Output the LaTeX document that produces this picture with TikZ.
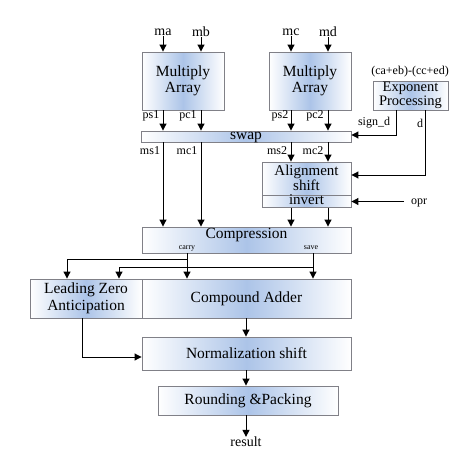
\documentclass[tikz,border=0pt]{standalone}
\usepackage{fontspec}
\setmainfont{Liberation Serif}
\usetikzlibrary{arrows.meta,calc}
\definecolor{boxblue}{RGB}{172,196,232}
\definecolor{boxedge}{RGB}{128,128,135}
\tikzset{
  blk/.style={draw=boxedge, line width=0.9pt, left color=white, right color=white,
    middle color=boxblue, inner sep=0pt, align=center,
    font=\fontsize{15.5}{16.5}\selectfont},
  txt/.style={inner sep=0pt, align=center, font=\fontsize{15.5}{16.5}\selectfont},
  arr/.style={-{Triangle[length=7pt,width=7pt]}, line width=1pt},
  lab/.style={inner sep=0pt, font=\fontsize{14}{15}\selectfont},
  sml/.style={inner sep=0pt, font=\fontsize{12}{13}\selectfont},
  tiny/.style={inner sep=0pt, font=\fontsize{8}{9}\selectfont},
}
\begin{document}
\begin{tikzpicture}[x=1pt,y=-1pt]
\useasboundingbox (0,0) rectangle (474,466);
% columns
\coordinate (c1) at (163,0);
\coordinate (c2) at (201,0);
\coordinate (c3) at (291,0);
\coordinate (c4) at (328,0);
\coordinate (sx) at (396,0);
\coordinate (dx) at (425,0);
\coordinate (k1) at (187,0);
\coordinate (s1) at (313,0);
\coordinate (l1) at (67,0);
\coordinate (l2) at (119,0);
\coordinate (b1) at (0,259);
\coordinate (b2) at (0,267);
\coordinate (z1) at (82,0);
\coordinate (m) at (246,0);

% boxes
\node[blk, minimum width=82pt, minimum height=58pt] (mul1) at (183,81) {Multiply\\Array};
\node[blk, minimum width=82pt, minimum height=58pt] (mul2) at (310,81) {Multiply\\Array};
\node[blk, minimum width=75pt, minimum height=29pt, font=\fontsize{14.5}{14}\selectfont] (exp) at (410.5,95.5) {Exponent\\Processing};
\node[blk, minimum width=210pt, minimum height=11pt, text height=7pt, text depth=1pt] (swap) at (246,136.5) {swap};
\node[blk, minimum width=89pt, minimum height=33pt] (align) at (306.5,178.5) {};
\node[txt, font=\fontsize{15}{15}\selectfont] (alignt) at (306.5,177.5) {Alignment\\shift};
\node[blk, minimum width=89pt, minimum height=12pt, text height=7pt, text depth=1pt, font=\fontsize{15}{15}\selectfont] (inv) at (306.5,201.5) {invert};
\node[blk, minimum width=209pt, minimum height=26pt] (comp) at (246.5,240) {};
\node[txt] (compt) at (246.5,235) {Compression};
\node[blk, minimum width=112pt, minimum height=39pt] (lza) at (86,298.5) {Leading Zero\\Anticipation};
\node[blk, minimum width=209pt, minimum height=39pt] (ca) at (246.5,298.5) {Compound Adder};
\node[blk, minimum width=209pt, minimum height=33pt] (norm) at (246.5,353.5) {Normalization shift};
\node[blk, minimum width=180pt, minimum height=29pt] (round) at (248,400.5) {Rounding \&Packing};

% input labels
\node[lab] (ma) at (163,32) {ma};
\node[lab] (mb) at (201,32) {mb};
\node[lab] (mc) at (291,32) {mc};
\node[lab] (md) at (328,32) {md};
\node[sml] (eexp) at (410,72) {(ca+eb)-(cc+ed)};
\draw[arr] (ma.south) -- (mul1.north -| ma);
\draw[arr] (mb.south) -- (mul1.north -| mb);
\draw[arr] (mc.south) -- (mul2.north -| mc);
\draw[arr] (md.south) -- (mul2.north -| md);

% multiply outputs
\node[sml] (ps1) at (151,116) {ps1};
\node[sml] (pc1) at (188,116) {pc1};
\node[sml] (ps2) at (280,116) {ps2};
\node[sml] (pc2) at (315,116) {pc2};
\draw[arr] (mul1.south -| c1) -- (swap.north -| c1);
\draw[arr] (mul1.south -| c2) -- (swap.north -| c2);
\draw[arr] (mul2.south -| c3) -- (swap.north -| c3);
\draw[arr] (mul2.south -| c4) -- (swap.north -| c4);

% exponent outputs
\node[sml] (sgn) at (374,123) {sign\_d};
\node[sml] (dl) at (420,123) {d};
\draw[arr] (exp.south -| sx) |- ([yshift=1.5pt]swap.east);
\draw[arr] (exp.south -| dx) |- ([yshift=3.5pt]align.east);

% swap outputs
\node[sml] (ms1) at (150,151) {ms1};
\node[sml] (mc1) at (187,151) {mc1};
\node[sml] (ms2) at (277,151) {ms2};
\node[sml] (mc2) at (313,151) {mc2};
\draw[arr] (swap.south -| c1) -- (comp.north -| c1);
\draw[arr] (swap.south -| c2) -- (comp.north -| c2);
\draw[arr] (swap.south -| c3) -- (align.north -| c3);
\draw[arr] (swap.south -| c4) -- (align.north -| c4);
\draw[arr] (inv.south -| c3) -- (comp.north -| c3);
\draw[arr] (inv.south -| c4) -- (comp.north -| c4);

% opr
\node[sml, anchor=base] (opr) at (419,204.5) {opr};
\coordinate (oprstart) at (404,201.5);
\draw[arr] (oprstart) -- (inv.east);

% compression outputs
\node[tiny] (carry) at (187,248) {carry};
\node[tiny] (save) at (311,248) {save};
\draw[arr] (comp.south -| k1) -- (ca.north -| k1);
\draw[arr] (comp.south -| s1) -- (ca.north -| s1);
\draw[arr] (k1 |- b1) -| (lza.north -| l1);
\draw[arr] (s1 |- b2) -| (lza.north -| l2);

% lower chain
\draw[arr] (lza.south -| z1) |- ([yshift=-3.5pt]norm.west);
\draw[arr] (ca.south -| m) -- (norm.north -| m);
\draw[arr] (norm.south -| m) -- (round.north -| m);
\node[lab] (res) at (246,442) {result};
\draw[arr] (round.south -| m) -- (res.north);
\end{tikzpicture}
\end{document}
